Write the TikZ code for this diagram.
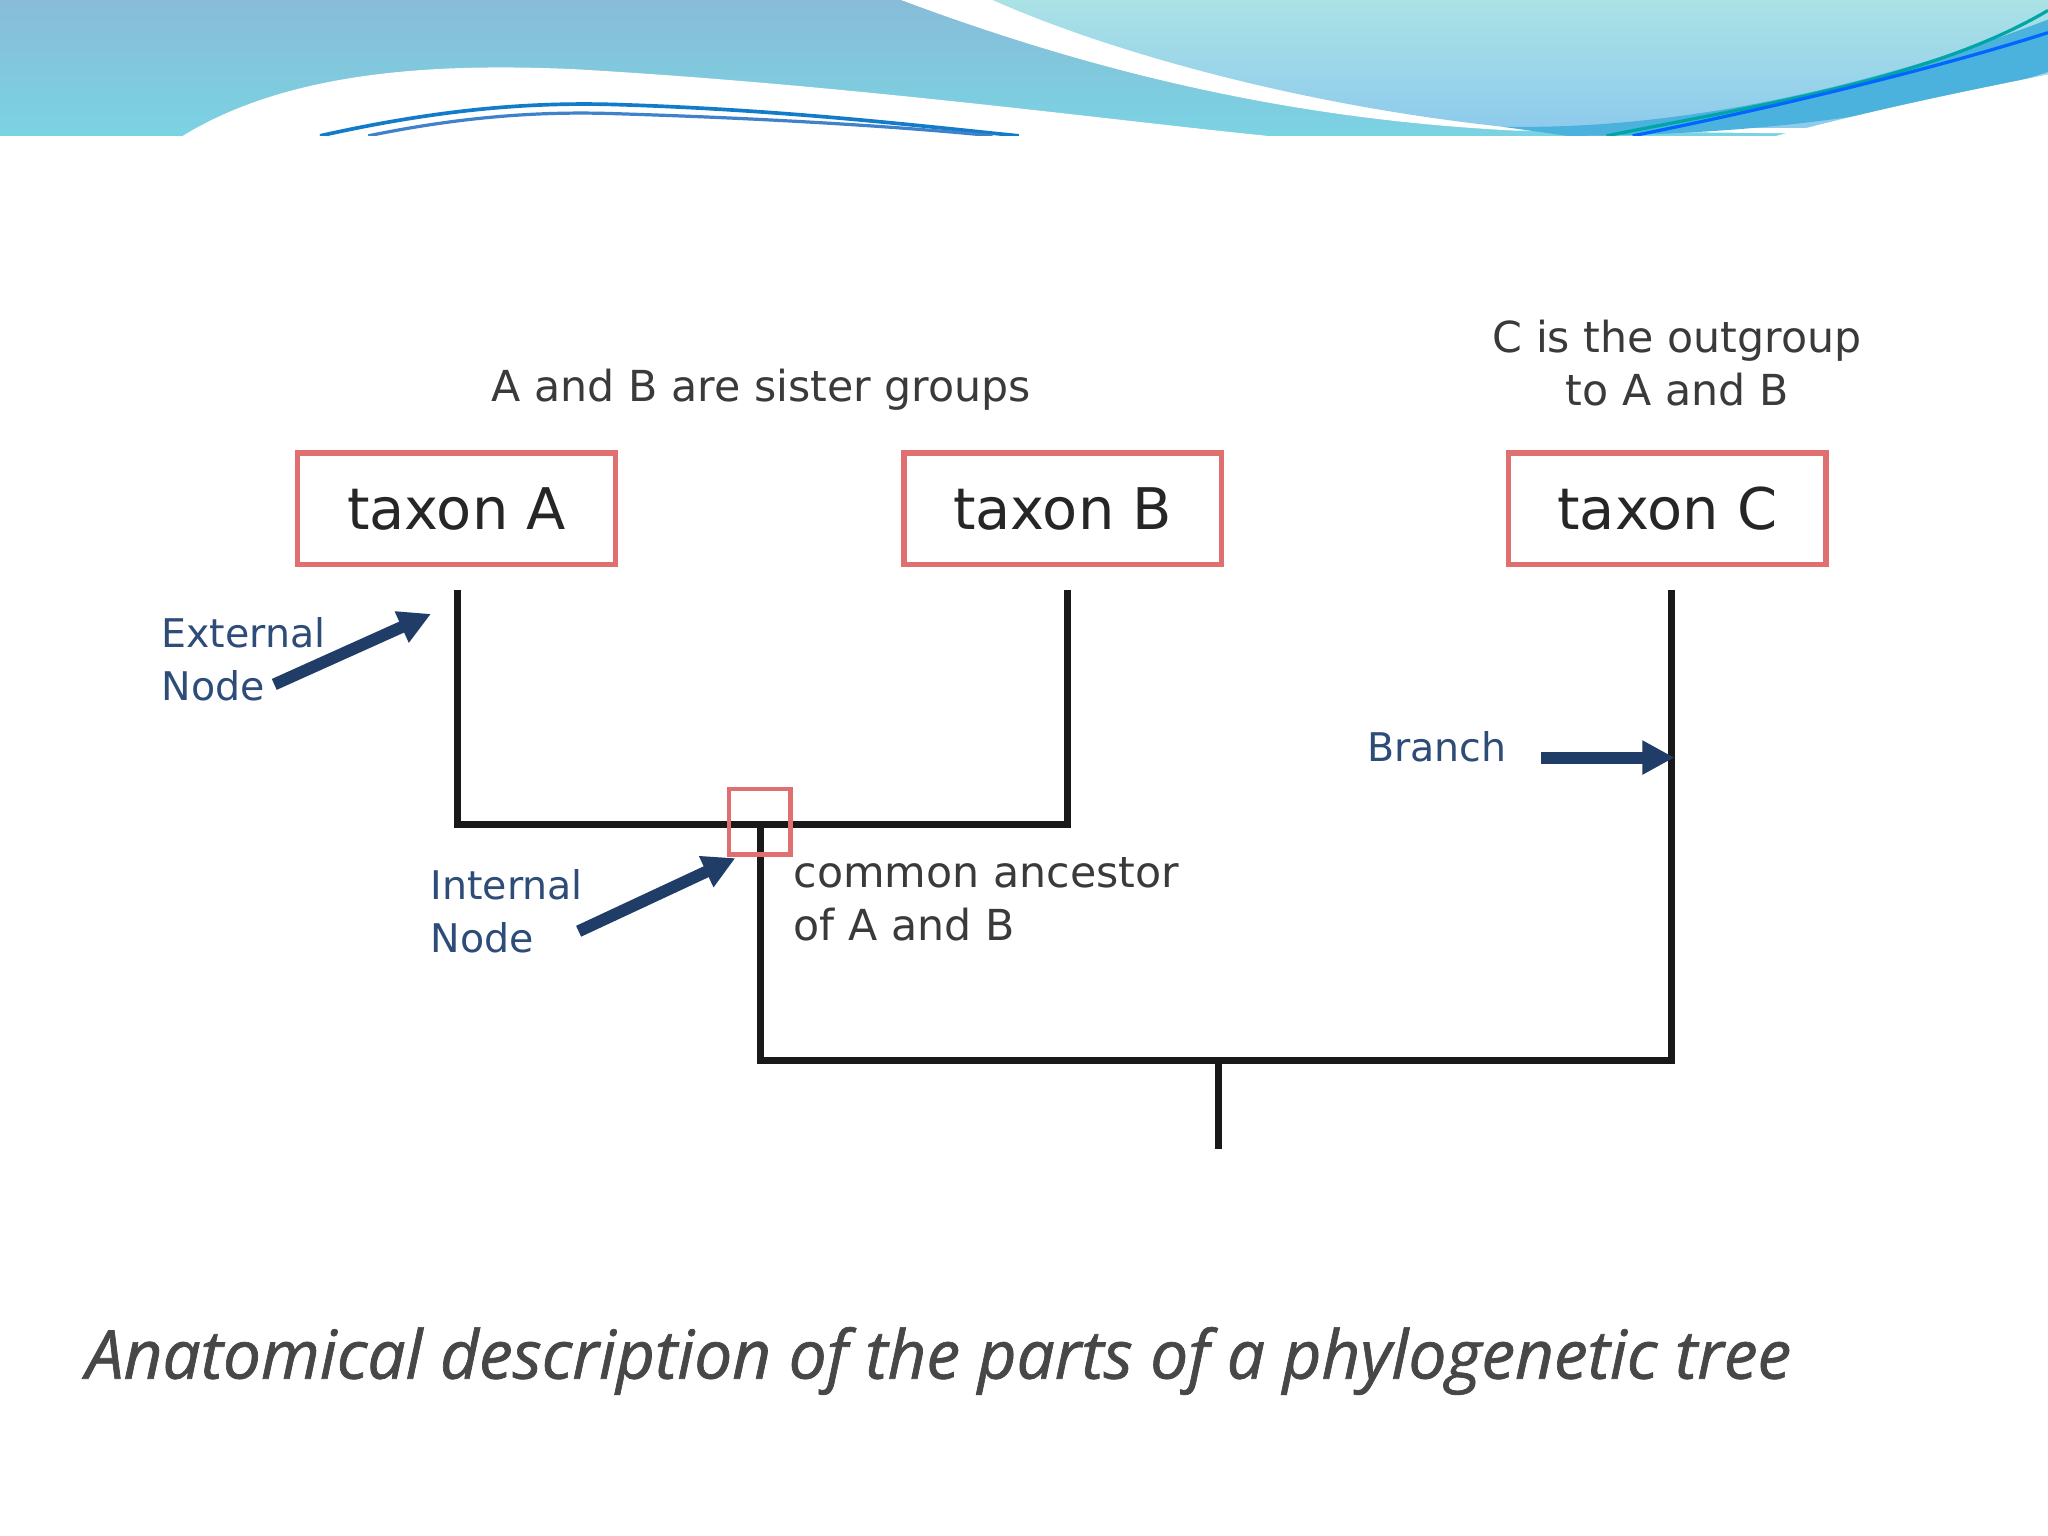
\documentclass[tikz,border=0pt]{standalone}
\usepackage{fontspec}
\setmainfont{DejaVu Sans}
\newfontfamily\capfont[ItalicFeatures={FakeBold=1}]{Open Sans}
\usetikzlibrary{arrows.meta}
\definecolor{gtext}{HTML}{3A3A3A}
\definecolor{ntext}{HTML}{2E4C78}
\definecolor{navy}{HTML}{1F3D66}
\definecolor{boxred}{HTML}{E07070}
\definecolor{hA}{HTML}{88BCD8}
\definecolor{hB}{HTML}{7AD3E2}
\definecolor{hC}{HTML}{AAE2E6}
\definecolor{hD}{HTML}{8ECBEC}
\definecolor{hE}{HTML}{4AB2DC}
\begin{document}
\begin{tikzpicture}[x=0.01cm,y=-0.01cm,
  taxon/.style={draw=boxred,line width=1.2pt,minimum width=2.43cm,minimum height=0.85cm,font=\fontsize{12.5}{14}\selectfont,text=black!85},
  lbl/.style={text=gtext,font=\fontsize{9.3}{11.5}\selectfont,align=center,inner sep=0},
  nlbl/.style={text=ntext,font=\fontsize{8.6}{11.5}\selectfont,align=left,inner sep=0,anchor=north west},
  tree/.style={line width=1.5pt,black!90},
  pointer/.style={navy,line width=2.6pt,-{Triangle[length=7pt,width=7pt]}}]
\useasboundingbox (0,0) rectangle (1568,1176);
\fill[white] (0,0) rectangle (1568,1176);
% header
\shade[top color=hA,bottom color=hB] (0,0) rectangle (1568,104);
\fill[white] (690,0) .. controls (850,60) and (1000,92) .. (1160,100) -- (1568,104) -- (1568,0) -- cycle;
\shade[top color=hC,bottom color=hD] (760,0) .. controls (850,40) and (1000,82) .. (1160,98) -- (1568,98) -- (1568,0) -- cycle;
\fill[hE] (1150,97) .. controls (1300,100) and (1450,60) .. (1568,15) -- (1568,55) .. controls (1450,95) and (1300,104) .. (1200,104) -- cycle;
\fill[white] (1360,104) .. controls (1450,80) and (1530,65) .. (1568,57) -- (1568,104) -- cycle;
\fill[white] (140,104) .. controls (220,55) and (330,48) .. (440,53) .. controls (650,65) and (850,92) .. (970,104) -- cycle;
\draw[cyan!60!blue,line width=0.8pt] (245,104) .. controls (330,85) and (400,78) .. (470,80) .. controls (600,84) and (700,96) .. (780,104);
\draw[cyan!50!blue!80,line width=0.7pt] (282,104) .. controls (350,90) and (410,85) .. (470,87) .. controls (600,91) and (700,98) .. (760,104);
\draw[teal!70!cyan,line width=0.7pt] (1230,104) .. controls (1350,80) and (1480,60) .. (1568,8);
\draw[blue!60!cyan,line width=0.7pt] (1250,104) .. controls (1370,80) and (1490,50) .. (1568,25);
\fill[white] (0,104) rectangle (1568,1176);
% labels
\node[lbl] (sis) at (583,298) {A and B are sister groups};
\node[lbl] (out) at (1284,278) {C is the outgroup\\to A and B};
\node[taxon] (A) at (349.5,389.5) {taxon A};
\node[taxon] (B) at (813.5,389.5) {taxon B};
\node[taxon] (C) at (1276.5,389.5) {taxon C};
% tree
\coordinate (a1) at (350,452); \coordinate (a2) at (350,631);
\coordinate (b1) at (817,452); \coordinate (b2) at (817,631);
\coordinate (m1) at (582,631); \coordinate (m2) at (582,812);
\coordinate (c1) at (1280,452); \coordinate (c2) at (1280,812);
\coordinate (r1) at (933,812); \coordinate (r2) at (933,880);
\draw[tree] (a1) -- (a2) -- (b2) -- (b1);
\draw[tree] (m1) -- (m2) -- (c2) -- (c1);
\draw[tree] (r1) -- (r2);
\node[draw=boxred,line width=1pt,minimum width=0.47cm,minimum height=0.5cm,inner sep=0] (int) at (581.5,629) {};
% annotations
\node[nlbl] (ext) at (123,472) {External\\Node};
\node[nlbl] (intl) at (329,665) {Internal\\Node};
\node[lbl,align=left,anchor=north west] (ca) at (607,656) {common ancestor\\of A and B};
\node[nlbl,anchor=west] (br) at (1046,572) {Branch};
\coordinate (e1) at (210,524); \coordinate (e2) at (330,470);
\coordinate (i1) at (443,713); \coordinate (i2) at (563,657);
\coordinate (q1) at (1180,580); \coordinate (q2) at (1282,580);
\draw[pointer] (e1) -- (e2);
\draw[pointer] (i1) -- (i2);
\draw[pointer] (q1) -- (q2);
% caption
\node[anchor=west,text=black!72,inner sep=0] (cap) at (65,1042) {\resizebox{13.05cm}{!}{\capfont\itshape\fontsize{20}{24}\selectfont Anatomical description of the parts of a phylogenetic tree}};
\end{tikzpicture}
\end{document}
